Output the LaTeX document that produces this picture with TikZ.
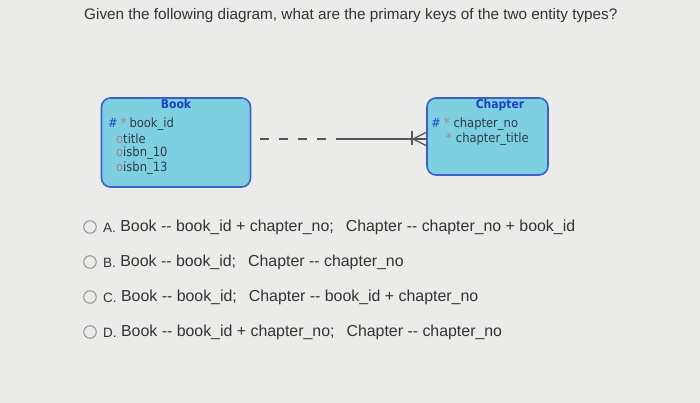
\documentclass[tikz,border=0pt]{standalone}
\usepackage{fontspec}
\setmainfont{Liberation Sans}
\newfontfamily\erfont{DejaVu Sans Condensed}
\definecolor{bgc}{HTML}{EBEBEA}
\definecolor{boxfill}{HTML}{7ECFE0}
\definecolor{boxline}{HTML}{3D5FC6}
\definecolor{titleblue}{HTML}{1E3FC0}
\definecolor{attrtext}{HTML}{2E3A4A}
\definecolor{hashblue}{HTML}{1E48C8}
\definecolor{markpink}{HTML}{B07A8A}
\definecolor{qtext}{HTML}{333333}
\definecolor{linegray}{HTML}{555555}
\tikzset{
  x=1pt,y=-1pt,
  entity/.style={draw=boxline,line width=1.6pt,fill=boxfill,rounded corners=9pt},
  etitle/.style={font=\erfont\bfseries\fontsize{12}{14}\selectfont,text=titleblue,inner sep=0pt},
  attr/.style={font=\erfont\fontsize{12.8}{14}\selectfont,text=attrtext,anchor=west,inner sep=0pt},
  qstyle/.style={font=\fontsize{15.3}{18}\selectfont,text=qtext,anchor=west,inner sep=0pt},
  optstyle/.style={font=\fontsize{15.9}{18}\selectfont,text=qtext,anchor=west,inner sep=0pt},
  radio/.style={circle,draw=gray!85,line width=1pt,minimum size=12.5pt,inner sep=0pt},
  rel/.style={draw=linegray,line width=1.3pt}
}
\newcommand{\dd}{{-}{-}}
\newcommand{\optlet}[1]{\raisebox{-1pt}{\fontsize{13.5}{15}\selectfont #1}}
\begin{document}
\begin{tikzpicture}
\useasboundingbox[fill=bgc] (0,0) rectangle (700,403);
\node[qstyle] (q) at (84,16) {Given the following diagram, what are the primary keys of the two entity types?};

% Book entity
\node[entity,minimum width=149pt,minimum height=89pt] (book) at (176,142.5) {};
\node[etitle] (bookt) at (176,104) {Book};
\node[attr] (b1) at (108,124) {\textcolor{hashblue}{\#}\hspace{3pt}\textcolor{markpink}{*}\hspace{3pt}book\_id};
\node[attr] (b2) at (116,138.5) {\textcolor{markpink}{o}title};
\node[attr] (b3) at (116,153.5) {\textcolor{markpink}{o}isbn\_10};
\node[attr] (b4) at (116,168.5) {\textcolor{markpink}{o}isbn\_13};

% Chapter entity
\node[entity,minimum width=121pt,minimum height=77pt] (chap) at (487.5,136.5) {};
\node[etitle] (chapt) at (500,105) {Chapter};
\node[attr] (c1) at (431,124.5) {\textcolor{hashblue}{\#}\hspace{3pt}\textcolor{markpink}{*}\hspace{4pt}chapter\_no};
\node[attr] (c2) at (446,139) {\textcolor{markpink}{*}\hspace{4pt}chapter\_title};

% relationship
\coordinate (rs) at (260,139);
\coordinate (rm) at (336,139);
\coordinate (rb) at (412,139);
\coordinate (re) at (427,139);
\draw[rel,dash pattern=on 9pt off 10pt] (rs) -- (rm);
\draw[rel] (rm) -- (re);
\draw[rel] (412,131) -- (412,145);
\draw[rel] (413,139) -- (427,132);
\draw[rel] (413,139) -- (427,146);

% options
\node[radio] (ra) at (90,227) {};
\node[optstyle] (oa) at (103,227) {\optlet{A.} Book \dd{} book\_id + chapter\_no;\hspace{12pt}Chapter \dd{} chapter\_no + book\_id};
\node[radio] (rb) at (90,262) {};
\node[optstyle] (ob) at (103,262) {\optlet{B.} Book \dd{} book\_id;\hspace{12pt}Chapter \dd{} chapter\_no};
\node[radio] (rc) at (90,297) {};
\node[optstyle] (oc) at (103,297) {\optlet{C.} Book \dd{} book\_id;\hspace{12pt}Chapter \dd{} book\_id + chapter\_no};
\node[radio] (rd) at (90,332) {};
\node[optstyle] (od) at (103,332) {\optlet{D.} Book \dd{} book\_id + chapter\_no;\hspace{12pt}Chapter \dd{} chapter\_no};
\end{tikzpicture}
\end{document}
